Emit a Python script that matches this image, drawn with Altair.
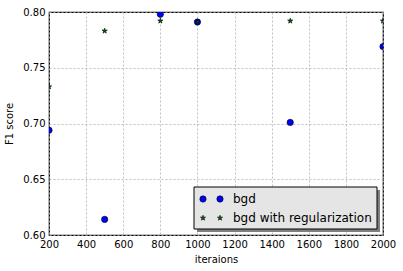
import altair as alt
import pandas as pd

iterations = [200, 500, 800, 1000, 1500, 2000]
bgd = [0.694, 0.614, 0.798, 0.791, 0.701, 0.769]
bgd_reg = [0.733, 0.783, 0.792, 0.791, 0.792, 0.792]
series = ["bgd", "bgd with regularization"]
colors = ["#0000ff", "#006400"]

rows = []
for it, v in zip(iterations, bgd):
    rows.append({"iter": it, "f1": v, "series": series[0]})
for it, v in zip(iterations, bgd_reg):
    rows.append({"iter": it, "f1": v, "series": series[1]})
df = pd.DataFrame(rows)

FONT = "DejaVu Sans"
STAR = ("M0,-1L0.2245,-0.309L0.951,-0.309L0.3633,0.118L0.5878,0.809L0,0.382"
        "L-0.5878,0.809L-0.3633,0.118L-0.951,-0.309L-0.2245,-0.309Z")
shapes = ["circle", STAR]
sizes = [40, 30]

xs = alt.X("iter:Q", scale=alt.Scale(domain=[200, 2000], nice=False, zero=False),
           axis=alt.Axis(values=list(range(200, 2001, 200)), title="iteraions", format="d",
                         labelOverlap=False, labelFlush=False))
ys = alt.Y("f1:Q", scale=alt.Scale(domain=[0.60, 0.80], nice=False, zero=False),
           axis=alt.Axis(values=[0.60, 0.65, 0.70, 0.75, 0.80], format=".2f", title="F1 score",
                         labelFlush=False))

points = alt.Chart(df).mark_point(filled=True, clip=True, opacity=1, stroke="black", strokeWidth=0.6).encode(
    x=xs, y=ys,
    color=alt.Color("series:N", scale=alt.Scale(domain=series, range=colors), legend=None),
    shape=alt.Shape("series:N", scale=alt.Scale(domain=series, range=shapes), legend=None),
    size=alt.Size("series:N", scale=alt.Scale(domain=series, range=sizes), legend=None),
)

# ---- legend (decoration) ----
one = pd.DataFrame({"a": [0]})
shadow = alt.Chart(one).mark_rect(color="#7f7f7f").encode(
    x=alt.value(148), x2=alt.value(331), y=alt.value(178), y2=alt.value(220))
box = alt.Chart(one).mark_rect(fill="#e5e5e5", stroke="black", strokeWidth=1).encode(
    x=alt.value(145), x2=alt.value(328), y=alt.value(175), y2=alt.value(217))

legend_layers = [shadow, box]
row_y = [187, 206]
for name, col, shp, sz, yy in zip(series, colors, shapes, sizes, row_y):
    for sx in (154, 171):
        legend_layers.append(
            alt.Chart(one).mark_point(filled=True, opacity=1, stroke="black", strokeWidth=0.6).encode(
                x=alt.value(sx), y=alt.value(yy), color=alt.value(col),
                shape=alt.value(shp), size=alt.value(sz)))
    legend_layers.append(
        alt.Chart(one).mark_text(text=name, align="left", baseline="middle", font=FONT,
                                 fontSize=12, color="black").encode(
            x=alt.value(184), y=alt.value(yy)))

chart = alt.layer(points, *legend_layers).properties(
    width=334, height=223,
    autosize=alt.AutoSizeParams(type="none"),
    padding={"left": 49, "top": 12, "right": 20, "bottom": 36},
    background="white",
).configure_view(stroke="black", strokeWidth=1.2).configure_axis(
    domain=False, ticks=False, grid=True, gridColor="#b0b0b0", gridDash=[2, 2],
    gridWidth=0.8, labelFont=FONT, labelFontSize=10, labelColor="black",
    titleFont=FONT, titleFontSize=10, titleFontWeight="normal", titleColor="black",
    labelPadding=4,
).configure_axisY(titlePadding=8).configure_axisX(titlePadding=5)

chart.save("out.html", embed_options={"renderer": "svg", "actions": False})
